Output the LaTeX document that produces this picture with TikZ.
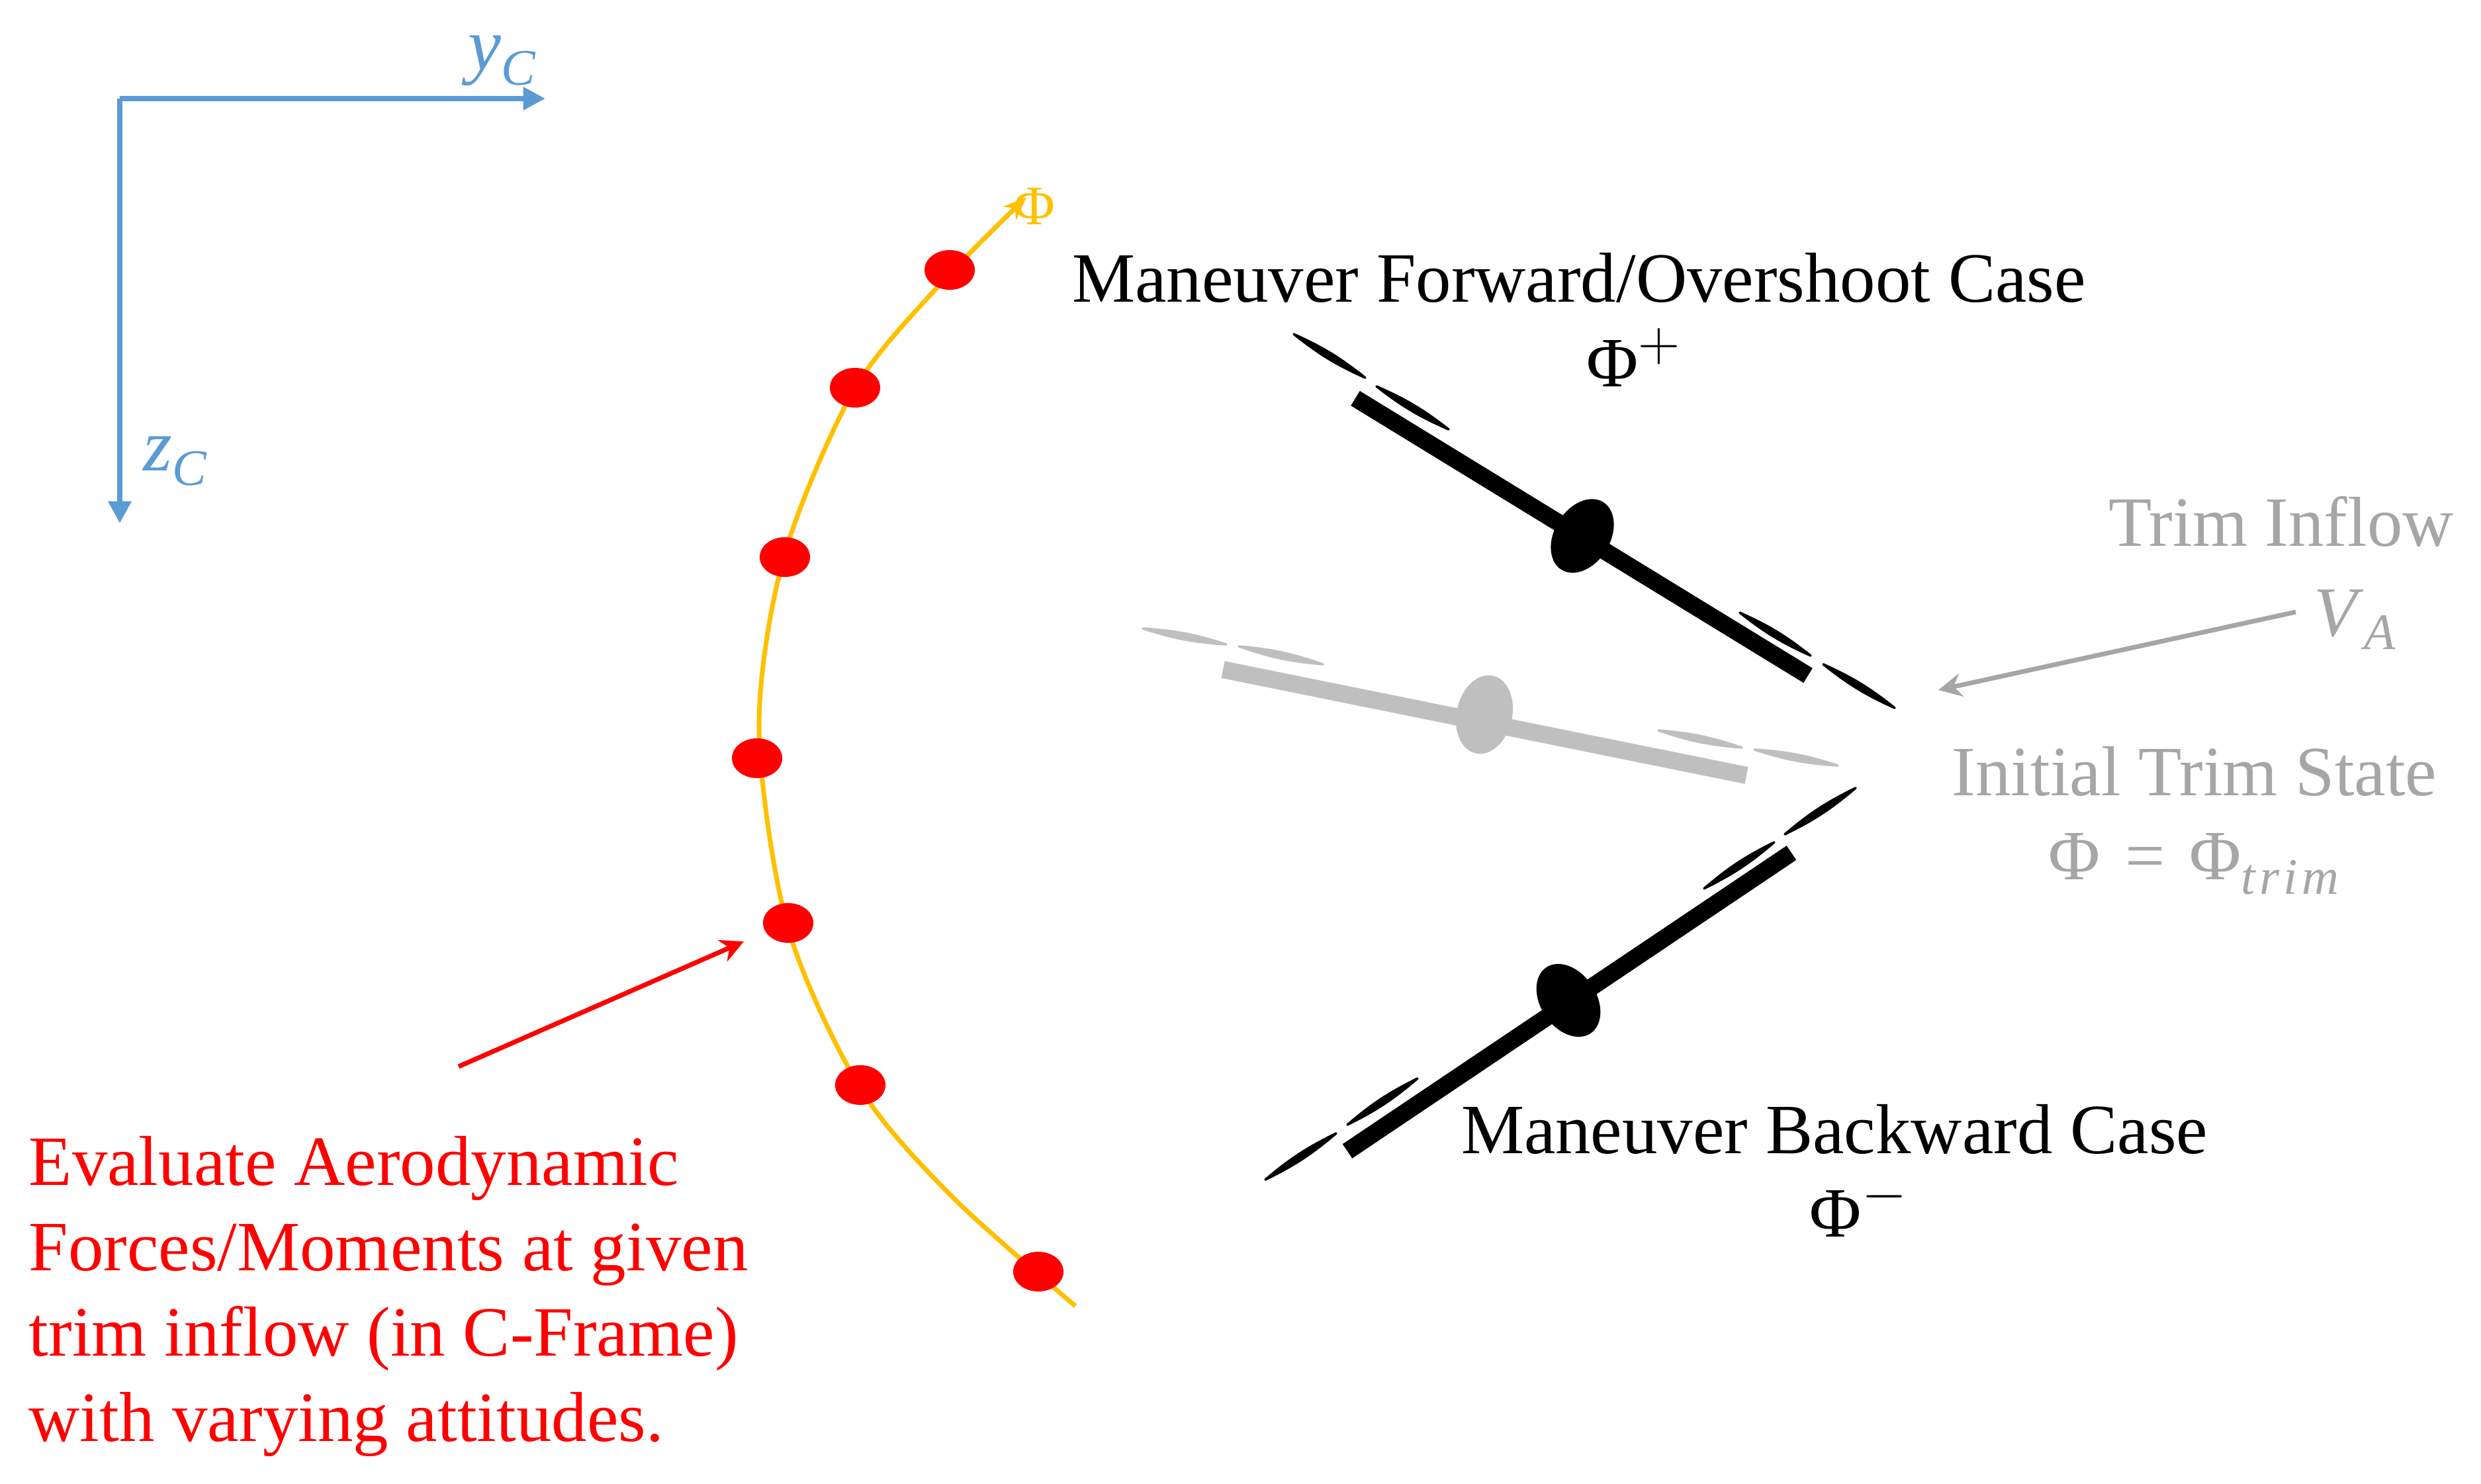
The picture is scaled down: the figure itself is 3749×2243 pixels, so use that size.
\documentclass[tikz,border=0pt]{standalone}
\usepackage{amsmath}
\usepackage{fontspec}
\setmainfont{Liberation Serif}
\usepackage{tikz}
\usetikzlibrary{arrows.meta,shapes.geometric}

\definecolor{axisblue}{HTML}{5B9BD5}
\definecolor{arcgold}{HTML}{FFC000}
\definecolor{trimgray}{HTML}{BFBFBF}
\definecolor{textgray}{HTML}{A6A6A6}

\tikzset{
    lbl/.style={inner sep=0pt,anchor=base,font=\fontsize{30.4}{36.6}\selectfont},
    redpt/.style={ellipse,fill=red,inner sep=0pt,minimum width=0.76cm,minimum height=0.6cm},
    hub/.style={ellipse,inner sep=0pt,minimum width=0.84cm,minimum height=1.2cm},
    axis/.style={axisblue,line width=2.4pt,-{Triangle[length=9.5pt,width=9.5pt]}},
    pointer/.style={line width=2pt,-{Stealth[length=10pt,width=10pt]}},
    bar/.style={line width=7.4pt},
    blade/.style={line width=1pt,line join=round}
}

\newcommand{\rotorblade}[2]{\filldraw[blade] (#1) to[bend left=7] (#2) to[bend left=7] (#1) -- cycle;}
\newcommand{\lowsub}[2]{\raisebox{-#1pt}{\fontsize{22}{26}\selectfont\textit{#2}}}
\newcommand{\highsup}[1]{\raisebox{11pt}{\fontsize{24}{26}\selectfont$#1$}}

\begin{document}
\begin{tikzpicture}[x=0.01cm,y=-0.01cm]
    \useasboundingbox (0,0) rectangle (3749,2243);

    % axes
    \coordinate (o) at (181,149);
    \coordinate (yc) at (824,149);
    \coordinate (zc) at (181,791);
    \draw[axis] (o) -- (yc);
    \draw[axis] (o) -- (zc);
    \node[lbl,axisblue] (yclbl) at (759,106) {\fontsize{32}{36}\selectfont\textit{y}\lowsub{6.5}{C}};
    \node[lbl,axisblue] (zclbl) at (265,711) {\fontsize{32}{36}\selectfont\textit{z}\lowsub{6.5}{C}};

    % attitude sweep
    \draw[arcgold,line width=2pt,-{Stealth[length=10pt,width=8pt]}] plot[smooth] coordinates
        {(1625,1974) (1440,1810) (1300,1645) (1190,1400) (1147,1100) (1185,840) (1290,590) (1420,430) (1551,298)};
    \node[lbl,arcgold,font=\fontsize{24}{26}\selectfont] (philbl) at (1563,340) {Φ};
    \foreach \i/\x/\y in {1/1435/408,2/1292/586,3/1186/842,4/1144/1146,5/1191/1395,6/1300/1640,7/1569/1922}
        \node[redpt] (p\i) at (\x,\y) {};

    % trim rotor
    \begin{scope}[trimgray,fill=trimgray]
        \coordinate (ta) at (1848,1012);
        \coordinate (tb) at (2639,1172);
        \draw[bar] (ta) -- (tb);
        \node[hub,fill=trimgray,rotate=-12.5] (thub) at (2243,1080) {};
        \rotorblade{1727,950}{1853,974}
        \rotorblade{1872,977}{1999,1004}
        \rotorblade{2506,1104}{2632,1130}
        \rotorblade{2651,1133}{2777,1157}
    \end{scope}

    % forward rotor
    \coordinate (fa) at (2048,602);
    \coordinate (fb) at (2732,1021);
    \draw[bar] (fa) -- (fb);
    \node[hub,fill=black,rotate=-31.5] (fhub) at (2391,810) {};
    \rotorblade{1955,505}{2063,571}
    \rotorblade{2080,584}{2189,649}
    \rotorblade{2629,926}{2736,991}
    \rotorblade{2755,1004}{2863,1070}

    % backward rotor
    \coordinate (ba) at (2036,1740);
    \coordinate (bb) at (2707,1289);
    \draw[bar] (ba) -- (bb);
    \node[hub,fill=black,rotate=33.9] (bhub) at (2370,1512) {};
    \rotorblade{1912,1783}{2019,1713}
    \rotorblade{2036,1700}{2142,1630}
    \rotorblade{2575,1343}{2681,1273}
    \rotorblade{2697,1261}{2804,1191}

    % labels
    \node[lbl] (fwd) at (2386,457) {Maneuver Forward/Overshoot Case};
    \node[lbl] (fwdphi) at (2468,584) {Φ\highsup{+}};
    \node[lbl] (bwd) at (2772,1743) {Maneuver Backward Case};
    \node[lbl] (bwdphi) at (2808,1869) {Φ\highsup{-}};

    \node[lbl,textgray] (inflow) at (3447,825) {Trim Inflow};
    \node[lbl,textgray] (va) at (3558,961) {\textit{V}\lowsub{5.7}{A}};
    \coordinate (inflowstart) at (3469,925);
    \coordinate (inflowend) at (2929,1043);
    \draw[pointer,textgray] (inflowstart) -- (inflowend);
    \node[lbl,textgray] (init) at (3316,1202) {Initial Trim State};
    \node[lbl,textgray] (initphi) at (3318,1329) {Φ\hspace{0.35em}=\hspace{0.35em}Φ\lowsub{6.5}{\addfontfeature{LetterSpace=8}trim}};

    \coordinate (evalstart) at (693,1612);
    \coordinate (evalend) at (1124,1423);
    \draw[pointer,red] (evalstart) -- (evalend);
    \node[lbl,red,align=left,anchor=north west] (eval) at (43,1717)
        {Evaluate Aerodynamic\\Forces/Moments at given\\trim inflow (in C-Frame)\\with varying attitudes.};
\end{tikzpicture}
\end{document}
